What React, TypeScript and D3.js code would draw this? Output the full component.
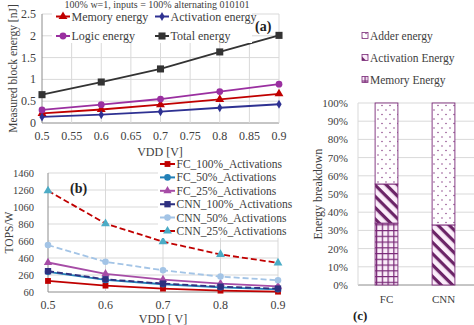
import React from 'react';
import * as d3 from 'd3';

// (a) measured block energy vs supply voltage
const vdd = [0.5, 0.6, 0.7, 0.8, 0.9];
const memoryEnergy = [0.22, 0.31, 0.42, 0.54, 0.67];
const activationEnergy = [0.14, 0.19, 0.26, 0.35, 0.43];
const logicEnergy = [0.3, 0.42, 0.55, 0.72, 0.89];
const totalEnergy = [0.65, 0.94, 1.24, 1.63, 2.01];
const energyTicksY = [0, 0.5, 1, 1.5, 2, 2.5];
const energyTicksX = [0.5, 0.55, 0.6, 0.65, 0.7, 0.75, 0.8, 0.85, 0.9];

// (b) efficiency vs supply voltage
const fc100 = [190, 135, 100, 76, 64];
const fc50 = [297, 202, 151, 115, 92];
const fc25 = [407, 273, 206, 159, 127];
const cnn100 = [305, 210, 159, 123, 100];
const cnn50 = [612, 415, 316, 241, 198];
const cnn25 = [1251, 865, 652, 502, 403];
const topsTicksY = [60, 260, 460, 660, 860, 1060, 1260, 1460];

// (c) energy breakdown
const networks = ['FC', 'CNN'];
const memoryShare = [34, 0];
const activationShare = [21.5, 33];
const adderShare = [44.5, 67];
const shareTicks = [0, 10, 20, 30, 40, 50, 60, 70, 80, 90, 100];

const FONT = '"Liberation Serif", "DejaVu Serif", serif';
const GRID = '#d9d9d9';
const AXIS = '#8c8c8c';
const TEXT = '#404040';
const PURPLE = '#7a2a78';

type Series = {
  name: string;
  values: number[];
  color: string;
  marker: d3.SymbolType;
  markerColor?: string;
  size: number;
  dash?: string;
};

const energySeries: Series[] = [
  { name: 'Memory energy', values: memoryEnergy, color: '#c00000', marker: d3.symbolTriangle, size: 34 },
  { name: 'Activation energy', values: activationEnergy, color: '#2e3192', marker: d3.symbolDiamond, size: 24 },
  { name: 'Logic energy', values: logicEnergy, color: '#9a2fa0', marker: d3.symbolCircle, size: 36 },
  { name: 'Total energy', values: totalEnergy, color: '#333333', marker: d3.symbolSquare, size: 50 },
];

const topsSeries: Series[] = [
  { name: 'FC_100%_Activations', values: fc100, color: '#c00000', marker: d3.symbolSquare, size: 34 },
  { name: 'FC_50%_Activations', values: fc50, color: '#2381b8', marker: d3.symbolCircle, size: 34 },
  { name: 'FC_25%_Activations', values: fc25, color: '#a64ca6', marker: d3.symbolTriangle, size: 30 },
  { name: 'CNN_100%_Activations', values: cnn100, color: '#2e3080', marker: d3.symbolSquare, size: 40, dash: '6,3' },
  { name: 'CNN_50%_Activations', values: cnn50, color: '#a3c4e6', marker: d3.symbolCircle, size: 34, dash: '6,3' },
  { name: 'CNN_25%_Activations', values: cnn25, color: '#c00000', marker: d3.symbolTriangle, markerColor: '#4bacc6', size: 34, dash: '6,3' },
];

const SeriesLines: React.FC<{
  series: Series[];
  x: d3.ScaleLinear<number, number>;
  y: d3.ScaleLinear<number, number>;
  width: number;
}> = ({ series, x, y, width }) => {
  const line = d3.line<number>().x((_, i) => x(vdd[i])).y(d => y(d));
  return (
    <g>
      {series.map(s => (
        <g key={s.name}>
          <path d={line(s.values) || ''} fill="none" stroke={s.color} strokeWidth={width} strokeDasharray={s.dash} />
          {s.values.map((v, i) => (
            <path
              key={i}
              transform={`translate(${x(vdd[i])},${y(v)})`}
              d={d3.symbol(s.marker, s.size)() || ''}
              fill={s.markerColor || s.color}
            />
          ))}
        </g>
      ))}
    </g>
  );
};

const LegendItem: React.FC<{ s: Series; x: number; y: number; len: number; fontSize: number }> = ({ s, x, y, len, fontSize }) => (
  <g transform={`translate(${x},${y})`}>
    <line x1={0} x2={len} y1={0} y2={0} stroke={s.color} strokeWidth={2} strokeDasharray={s.dash} />
    <path transform={`translate(${len / 2},0)`} d={d3.symbol(s.marker, s.size)() || ''} fill={s.markerColor || s.color} />
    <text x={len + 1.5} y={4} fontSize={fontSize} fill={TEXT}>{s.name}</text>
  </g>
);

const App: React.FC = () => {
  // panel (a)
  const ax = d3.scaleLinear().domain([0.5, 0.9]).range([42, 279]);
  const ay = d3.scaleLinear().domain([0, 2.5]).range([123, 14]);

  // panel (b)
  const bx = d3.scaleLinear().domain([0.5, 0.9]).range([48, 278]);
  const by = d3.scaleLinear().domain([60, 1460]).range([292, 173]);

  // panel (c)
  const cx = d3.scaleBand().domain(networks).range([358, 472]).paddingInner(0.6).paddingOuter(0.3);
  const cy = d3.scaleLinear().domain([0, 100]).range([285, 103]);

  const stacks = networks.map((n, i) => {
    const parts = [
      { key: 'memory', v: memoryShare[i], fill: 'url(#gridPat)' },
      { key: 'activation', v: activationShare[i], fill: 'url(#stripePat)' },
      { key: 'adder', v: adderShare[i], fill: 'url(#dotPat)' },
    ];
    let acc = 0;
    return parts.map(p => {
      const y0 = acc;
      acc += p.v;
      return { ...p, n, y0, y1: acc };
    });
  });

  const cLegend = [
    { label: 'Adder energy', fill: 'url(#dotPat)', y: 36 },
    { label: 'Activation Energy', fill: 'url(#stripePat)', y: 58 },
    { label: 'Memory Energy', fill: 'url(#gridPat)', y: 80 },
  ];

  return (
    <svg
      width={474}
      height={325}
      style={{ position: 'absolute', left: 0, top: 0, background: '#fff' }}
      fontFamily={FONT}
    >
      <defs>
        <pattern id="dotPat" width={8} height={9} patternUnits="userSpaceOnUse">
          <rect width={8} height={9} fill="#fff" />
          <circle cx={2} cy={2} r={0.7} fill={PURPLE} />
          <circle cx={6} cy={6.5} r={0.7} fill={PURPLE} />
        </pattern>
        <pattern id="stripePat" width={8} height={8} patternUnits="userSpaceOnUse" patternTransform="rotate(45)">
          <rect width={8} height={8} fill="#fbeefa" />
          <rect y={0} width={8} height={3.2} fill="#6b2467" />
        </pattern>
        <pattern id="gridPat" width={5.75} height={5.75} patternUnits="userSpaceOnUse" x={376} y={0}>
          <rect width={5.75} height={5.75} fill="#fbeefa" />
          <path d="M0,0.6H5.75M0.6,0V5.75" stroke={PURPLE} strokeWidth={1.3} />
        </pattern>
      </defs>

      {/* ---------- (a) ---------- */}
      <text x={157} y={8} textAnchor="middle" fontSize={10} fill={TEXT}>
        100% w=1, inputs = 100% alternating 010101
      </text>
      <g>
        {energyTicksY.map(t => (
          <g key={t}>
            <line x1={ax(0.5)} x2={ax(0.9)} y1={ay(t)} y2={ay(t)} stroke={t === 0 ? AXIS : GRID} strokeWidth={1} />
            <text x={36} y={ay(t) + 4} textAnchor="end" fontSize={12} fill={TEXT}>{String(t)}</text>
          </g>
        ))}
        {energyTicksX.map(t => (
          <g key={t}>
            <line x1={ax(t)} x2={ax(t)} y1={ay(0)} y2={ay(2.5)} stroke={t === 0.5 ? AXIS : GRID} strokeWidth={1} />
            <text x={ax(t)} y={140} textAnchor="middle" fontSize={12} fill={TEXT}>{String(t)}</text>
          </g>
        ))}
        <text x={160} y={156} textAnchor="middle" fontSize={12} fill={TEXT}>VDD [V]</text>
        <text transform={`translate(17,${(ay(0) + ay(2.5)) / 2}) rotate(-90)`} textAnchor="middle" fontSize={11.5} fill={TEXT}>
          Measured block energy [nJ]
        </text>
        <SeriesLines series={energySeries} x={ax} y={ay} width={1.8} />
        <rect x={52} y={10} width={200} height={33} fill="#fff" />
        <LegendItem s={energySeries[0]} x={56} y={16.5} len={14} fontSize={12} />
        <LegendItem s={energySeries[1]} x={155} y={16.5} len={14} fontSize={12} />
        <LegendItem s={energySeries[2]} x={56} y={36} len={14} fontSize={12} />
        <LegendItem s={energySeries[3]} x={155} y={36} len={14} fontSize={12} />
        <text x={255} y={31} fontSize={14} fontWeight="bold" fill="#222">(a)</text>
      </g>

      {/* ---------- (b) ---------- */}
      <g>
        {topsTicksY.map(t => (
          <g key={t}>
            <line x1={bx(0.5)} x2={bx(0.9)} y1={by(t)} y2={by(t)} stroke={t === 60 ? AXIS : GRID} strokeWidth={1} />
            <text x={34} y={by(t) + 4} textAnchor="end" fontSize={10.5} fill={TEXT}>{String(t)}</text>
          </g>
        ))}
        {vdd.map(t => (
          <g key={t}>
            <line x1={bx(t)} x2={bx(t)} y1={by(60)} y2={by(1460)} stroke={t === 0.5 ? AXIS : GRID} strokeWidth={1} />
            <text x={bx(t)} y={309} textAnchor="middle" fontSize={12} fill={TEXT}>{String(t)}</text>
          </g>
        ))}
        <text x={163} y={323} textAnchor="middle" fontSize={12} fill={TEXT}>VDD [ V]</text>
        <text transform={`translate(13,${(by(60) + by(1460)) / 2}) rotate(-90)`} textAnchor="middle" fontSize={11.5} fill={TEXT}>
          TOPS/W
        </text>
        <SeriesLines series={topsSeries} x={bx} y={by} width={1.8} />
        <rect x={158} y={158} width={132} height={80} fill="#fff" />
        {topsSeries.map((s, i) => (
          <LegendItem key={s.name} s={s} x={160} y={164 + i * 13.4} len={15} fontSize={11.5} />
        ))}
        <text x={70} y={193} fontSize={14} fontWeight="bold" fill="#222">(b)</text>
      </g>

      {/* ---------- (c) ---------- */}
      <g>
        {shareTicks.map(t => (
          <g key={t}>
            <line x1={358} x2={474} y1={cy(t)} y2={cy(t)} stroke={t === 0 ? AXIS : GRID} strokeWidth={1} />
            <text x={348} y={cy(t) + 4} textAnchor="end" fontSize={11} fill={TEXT}>{`${t}%`}</text>
          </g>
        ))}
        <line x1={358} x2={358} y1={cy(0)} y2={cy(100)} stroke={GRID} />
        {stacks.flat().filter(p => p.v > 0).map(p => (
          <rect
            key={p.n + p.key}
            x={cx(p.n)}
            y={cy(p.y1)}
            width={cx.bandwidth()}
            height={cy(p.y0) - cy(p.y1)}
            fill={p.fill}
            stroke={PURPLE}
            strokeWidth={0.9}
          />
        ))}
        {networks.map(n => (
          <text key={n} x={(cx(n) || 0) + cx.bandwidth() / 2} y={303} textAnchor="middle" fontSize={11} fill={TEXT}>{n}</text>
        ))}
        <text transform={`translate(322,${(cy(0) + cy(100)) / 2}) rotate(-90)`} textAnchor="middle" fontSize={12} fill={TEXT}>
          Energy breakdown
        </text>
        {cLegend.map(l => (
          <g key={l.label}>
            <rect x={362} y={l.y - 3.5} width={6} height={6} fill={l.fill} stroke={PURPLE} strokeWidth={0.8} />
            <text x={370} y={l.y + 3.5} fontSize={11.5} fill={TEXT}>{l.label}</text>
          </g>
        ))}
        <text x={353} y={320} fontSize={13} fontWeight="bold" fill="#222">(c)</text>
      </g>
    </svg>
  );
};

export default App;
